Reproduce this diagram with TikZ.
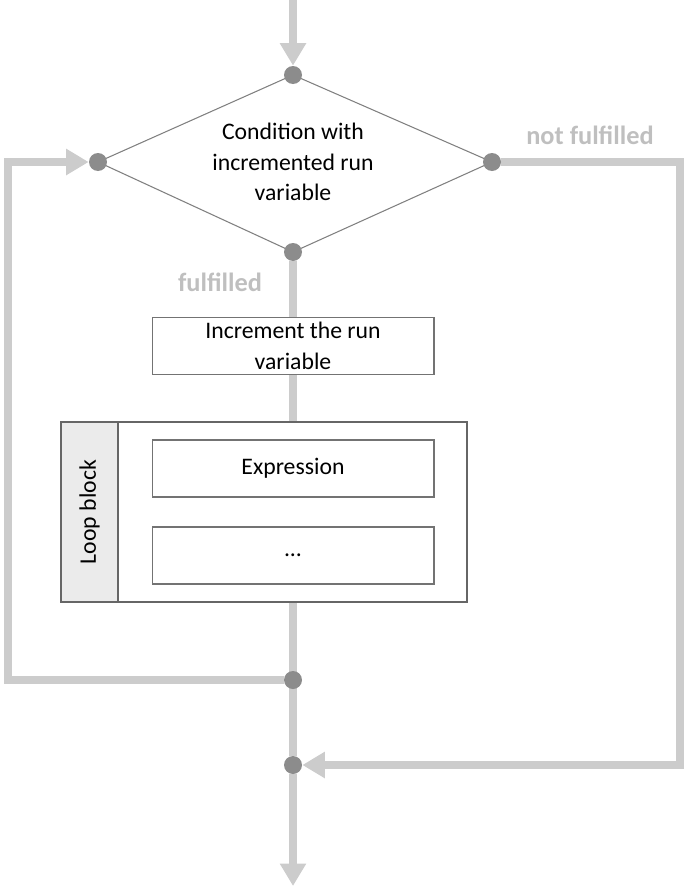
\documentclass[tikz,border=0pt]{standalone}
\usepackage{fontspec}
\setmainfont{Carlito}
\usetikzlibrary{shapes.geometric,backgrounds,arrows.meta}
\begin{document}
\begin{tikzpicture}[x=0.02cm,y=-0.02cm,
  flow/.style={draw=black!20,line width=0.16cm},
  tip/.style={-{Triangle[length=0.45cm,width=0.5cm]}},
  box/.style={draw=black!55,fill=white,line width=0.6pt,minimum width=5.64cm,minimum height=1.14cm,inner sep=0pt,align=center,font=\fontsize{13.5}{17.5}\selectfont},
  dot/.style={circle,fill=black!45,minimum size=0.36cm,inner sep=0pt},
  lbl/.style={text=black!25,font=\bfseries\fontsize{15}{17}\selectfont}]
\useasboundingbox (0,0) rectangle (685,886);
% diamond
\coordinate (dt) at (293,75);
\coordinate (dl) at (98,162);
\coordinate (dr) at (492,162);
\coordinate (db) at (293,252);
\draw[draw=black!50,fill=white,line width=0.6pt] (dt) -- (dr) -- (db) -- (dl) -- cycle;
\node[align=center,font=\fontsize{13.5}{17.5}\selectfont] (cond) at (293,162) {Condition with\\incremented run\\variable};
% boxes
\node[box] (inc) at (293,346) {Increment the run\\variable};
\draw[draw=black!60,fill=white,line width=0.6pt] (61,422) rectangle (467,602);
\draw[draw=black!60,fill=black!8,line width=0.6pt] (61,422) rectangle (118,602);
\node[rotate=90,font=\fontsize{13.5}{16}\selectfont] (lb) at (89.5,512) {Loop block};
\node[box] (expr) at (293,468.5) {Expression};
\node[box] (dots) at (293,555.5) {...};
% dots
\foreach \n/\p in {pt/dt,pl/dl,pr/dr,pb/db} \node[dot] (\n) at (\p) {};
\node[dot] (j1) at (293,680) {};
\node[dot] (j2) at (293,765) {};
\coordinate (top) at (293,0);
\coordinate (bot) at (293,886);
\node[lbl] (nf) at (590,135) {not fulfilled};
\node[lbl] (ff) at (220,282) {fulfilled};
\begin{scope}[on background layer]
\draw[flow,tip] (top) -- (pt.north);
\draw[flow] (pb) -- (j2);
\draw[flow,tip] (j2) -- (bot);
\draw[flow,tip] (j1) -- (8,680) -- (8,162) -- (pl.west);
\draw[flow,tip] (pr) -- (680,162) -- (680,765) -- (j2.east);
\end{scope}
\end{tikzpicture}
\end{document}
